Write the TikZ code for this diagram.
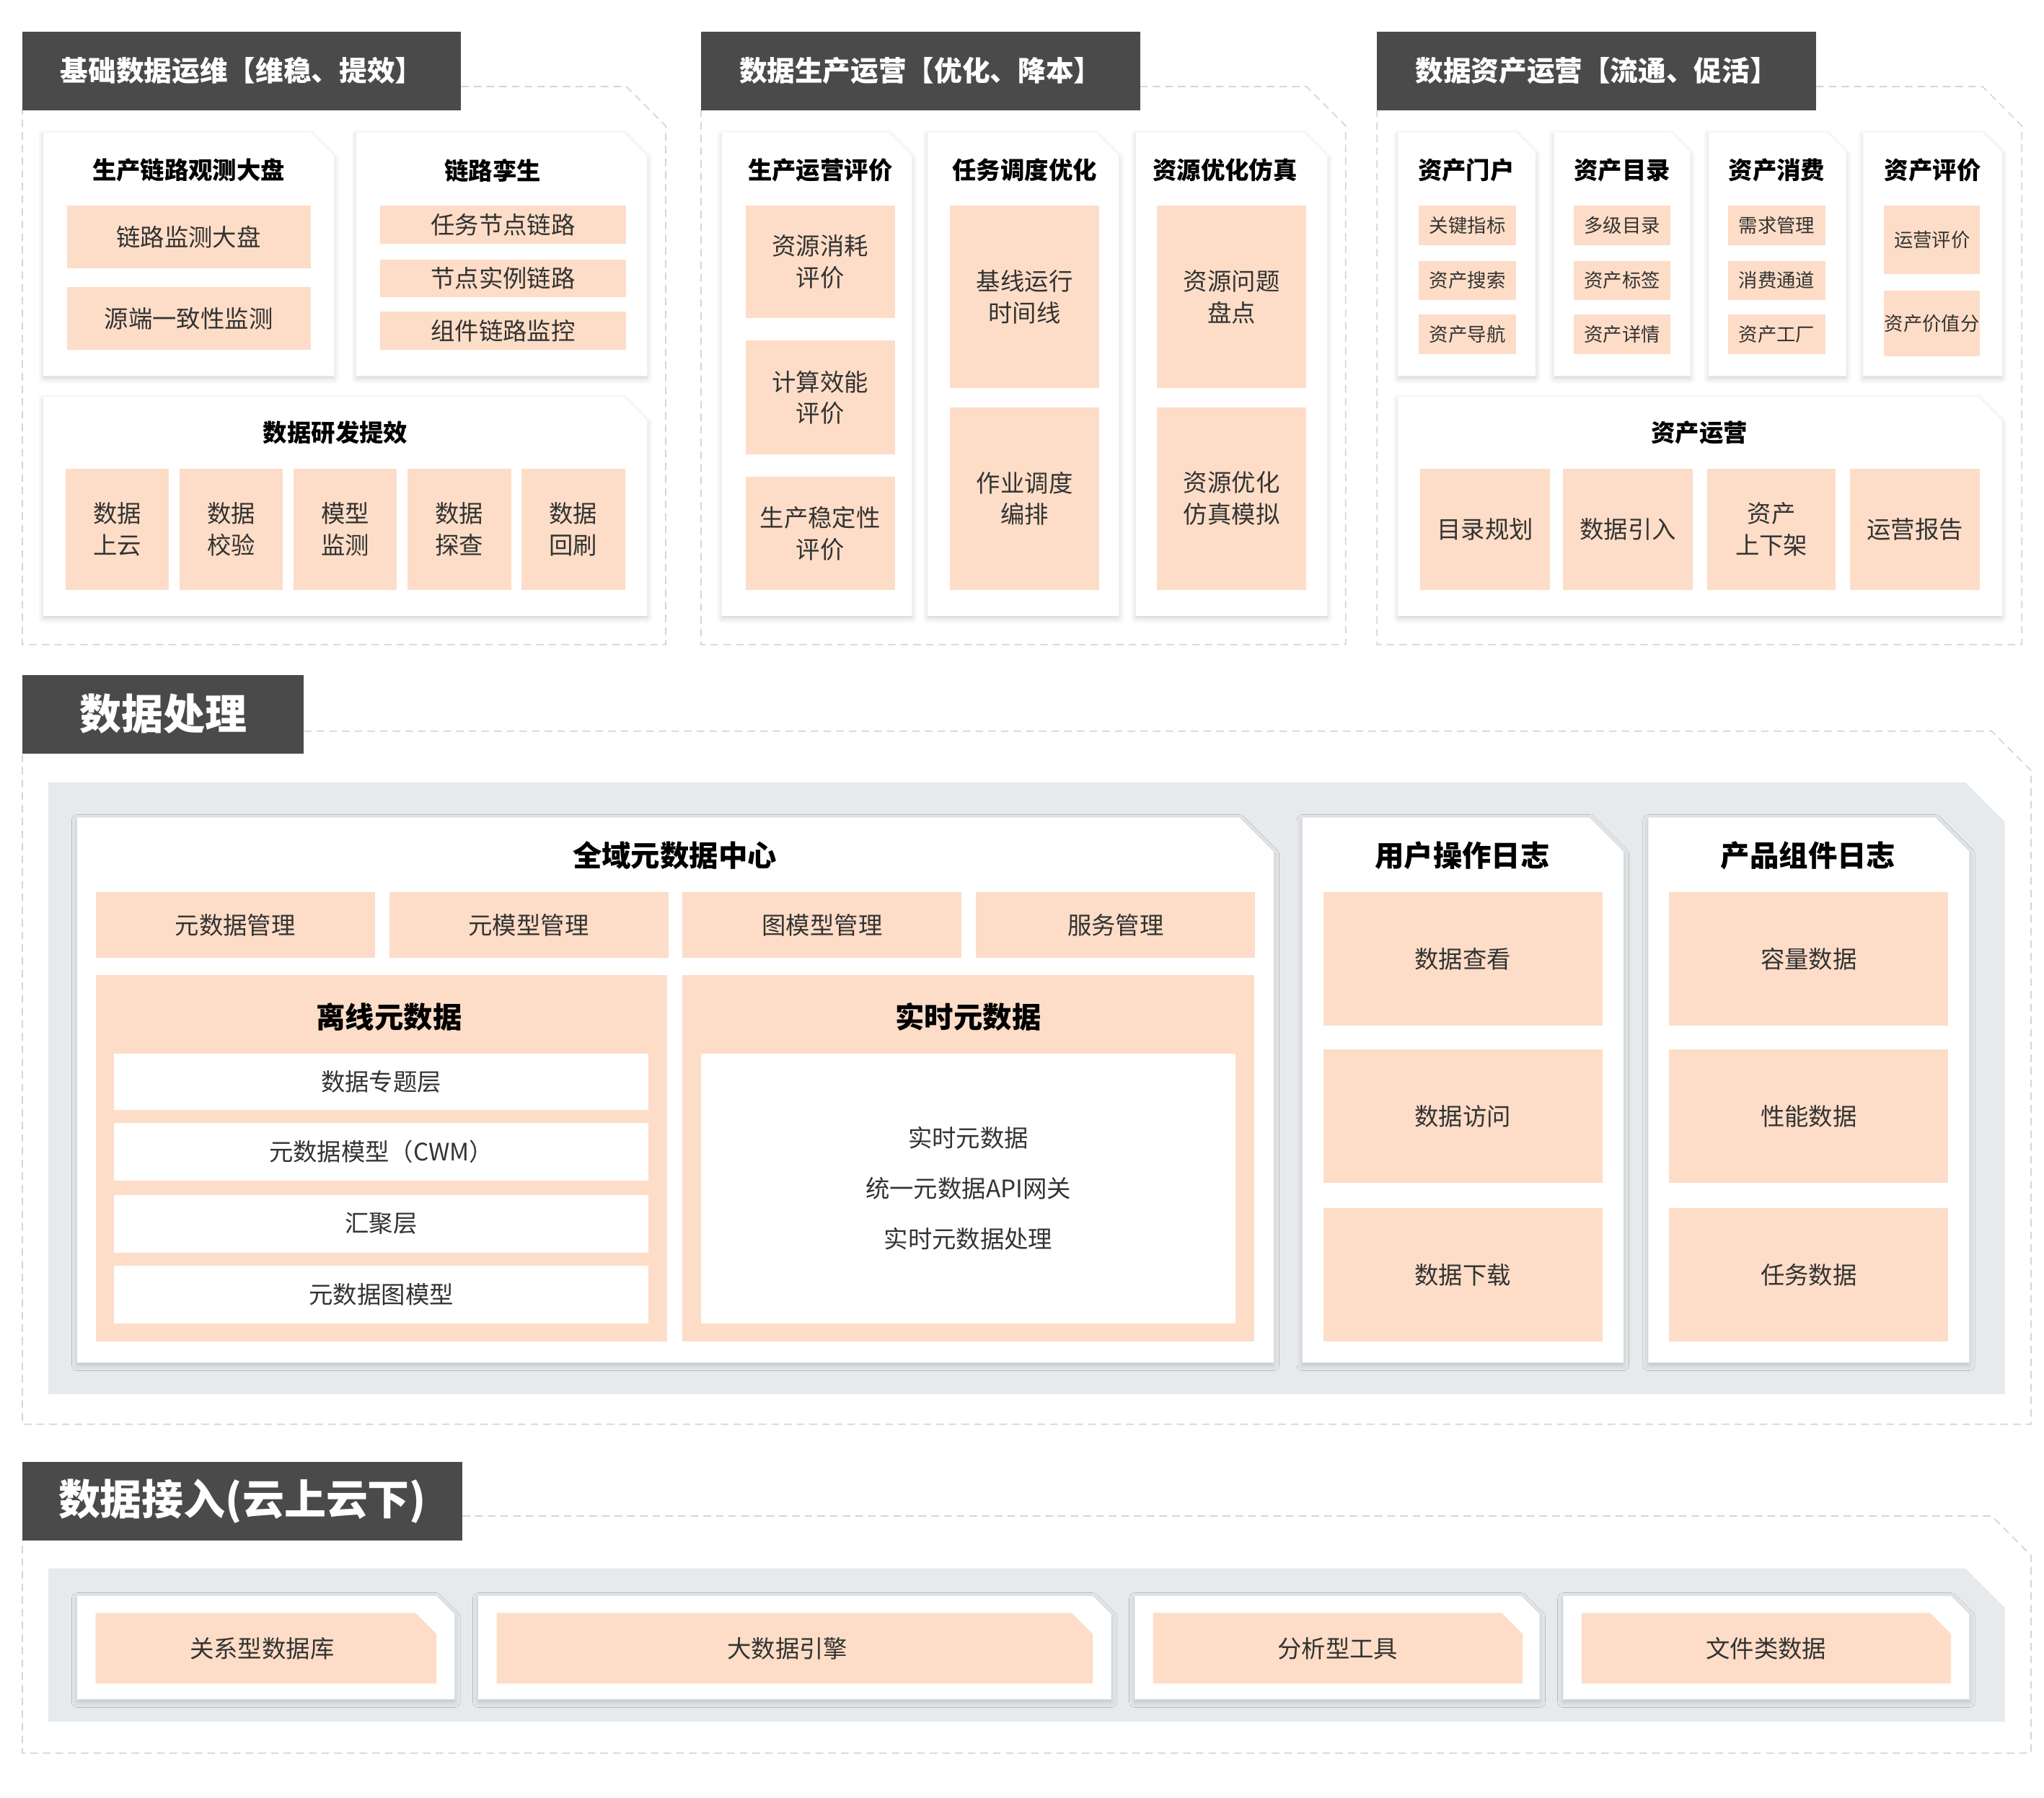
\documentclass[tikz,border=0pt]{standalone}
\usepackage{fontspec}
\setmainfont{Noto Sans CJK SC}
\usetikzlibrary{shadows.blur}
\definecolor{peach}{HTML}{FDDDC7}
\definecolor{headbg}{HTML}{4A4A4A}
\definecolor{panel}{HTML}{E7EAEC}
\definecolor{dashc}{HTML}{D3D6D8}
\definecolor{txt}{HTML}{333333}
\newcommand\card[5]{\fill[cardsty] (#1,#2) -- ({#3-#5},#2) -- (#3,{#2+#5}) -- (#3,#4) -- (#1,#4) -- cycle;}
\newcommand\outline[5]{\draw[dashsty] (#1,#2) -- ({#3-30},#2) -- (#3,{#2+30}) -- (#3,#4) -- (#5,#4) -- (#5,{#2+18});}
\newcommand\pbox[7][]{\node[peachbox, #1, minimum width={(#4-#2)*0.01817cm}, minimum height={(#5-#3)*0.01817cm}] (#6) at ({(#2+#4)/2},{(#3+#5)/2}) {#7};}
\begin{document}
\begin{tikzpicture}[x=0.01817cm, y=-0.01817cm,
  cardsty/.style={fill=white, blur shadow={shadow xshift=0pt, shadow yshift=-1pt, shadow blur steps=6, shadow opacity=18}},
  dashsty/.style={draw=dashc, dash pattern=on 3pt off 2pt, line width=0.5pt},
  peachbox/.style={fill=peach, inner sep=0pt, align=center, text=txt, font=\fontsize{9.5}{12.5}\selectfont},
  small/.style={font=\fontsize{7.5}{9}\selectfont},
  whitebox/.style={peachbox, fill=white},
  head/.style={fill=headbg, text=white, inner sep=0pt, font=\fontsize{11}{13}\selectfont\bfseries},
  bighead/.style={head, font=\fontsize{16.5}{19}\selectfont\bfseries},
  cardtitle/.style={text=black, font=\fontsize{9.5}{12}\selectfont\bfseries},
  bigtitle/.style={text=black, font=\fontsize{11.5}{14}\selectfont\bfseries},
  ]
  \useasboundingbox (0,0) rectangle (1560,1372);
  % top three sections
  \outline{352}{66}{508}{492}{17}
  \outline{870}{66}{1027}{492}{535}
  \outline{1386}{66}{1543}{492}{1051}
  \pbox[head]{17}{24}{352}{84}{h1}{基础数据运维【维稳、提效】}
  \pbox[head]{535}{24}{870}{84}{h2}{数据生产运营【优化、降本】}
  \pbox[head]{1051}{24}{1386}{84}{h3}{数据资产运营【流通、促活】}
  % section 1
  \card{33}{101}{255}{287}{18}
  \card{272}{101}{494}{287}{18}
  \card{33}{303}{494}{470}{18}
  \node[cardtitle] (c11) at (144,130) {生产链路观测大盘};
  \node[cardtitle] (c12) at (376,130) {链路孪生};
  \node[cardtitle] (c13) at (256,330) {数据研发提效};
  \pbox{51}{157}{237}{205}{a1}{链路监测大盘}
  \pbox{51}{219}{237}{267}{a2}{源端一致性监测}
  \pbox{290}{157}{478}{186}{b1}{任务节点链路}
  \pbox{290}{198}{478}{227}{b2}{节点实例链路}
  \pbox{290}{238}{478}{267}{b3}{组件链路监控}
  \pbox{50}{358}{129}{450}{d1}{数据\\上云}
  \pbox{137}{358}{216}{450}{d2}{数据\\校验}
  \pbox{224}{358}{303}{450}{d3}{模型\\监测}
  \pbox{311}{358}{390}{450}{d4}{数据\\探查}
  \pbox{398}{358}{477}{450}{d5}{数据\\回刷}
  % section 2
  \card{551}{101}{696}{470}{18}
  \card{708}{101}{854}{470}{18}
  \card{867}{101}{1013}{470}{18}
  \node[cardtitle] (c21) at (626,130) {生产运营评价};
  \node[cardtitle] (c22) at (782,130) {任务调度优化};
  \node[cardtitle] (c23) at (935,130) {资源优化仿真};
  \pbox{569}{157}{683}{243}{e1}{资源消耗\\评价}
  \pbox{569}{260}{683}{347}{e2}{计算效能\\评价}
  \pbox{569}{364}{683}{450}{e3}{生产稳定性\\评价}
  \pbox{725}{157}{839}{296}{f1}{基线运行\\时间线}
  \pbox{725}{311}{839}{450}{f2}{作业调度\\编排}
  \pbox{883}{157}{997}{296}{g1}{资源问题\\盘点}
  \pbox{883}{311}{997}{450}{g2}{资源优化\\仿真模拟}
  % section 3
  \card{1067}{101}{1172}{287}{15}
  \card{1186}{101}{1290}{287}{15}
  \card{1304}{101}{1409}{287}{15}
  \card{1422}{101}{1528}{287}{15}
  \card{1067}{303}{1528}{470}{18}
  \node[cardtitle] (c31) at (1119,130) {资产门户};
  \node[cardtitle] (c32) at (1238,130) {资产目录};
  \node[cardtitle] (c33) at (1356,130) {资产消费};
  \node[cardtitle] (c34) at (1475,130) {资产评价};
  \node[cardtitle] (c35) at (1297,330) {资产运营};
  \pbox[small]{1083}{157}{1157}{187}{p1}{关键指标}
  \pbox[small]{1083}{199}{1157}{229}{p2}{资产搜索}
  \pbox[small]{1083}{240}{1157}{270}{p3}{资产导航}
  \pbox[small]{1201}{157}{1275}{187}{q1}{多级目录}
  \pbox[small]{1201}{199}{1275}{229}{q2}{资产标签}
  \pbox[small]{1201}{240}{1275}{270}{q3}{资产详情}
  \pbox[small]{1319}{157}{1393}{187}{r1}{需求管理}
  \pbox[small]{1319}{199}{1393}{229}{r2}{消费通道}
  \pbox[small]{1319}{240}{1393}{270}{r3}{资产工厂}
  \pbox[small]{1438}{157}{1511}{209}{s1}{运营评价}
  \pbox[small]{1438}{222}{1511}{272}{s2}{资产价值分}
  \pbox{1084}{358}{1183}{450}{o1}{目录规划}
  \pbox{1193}{358}{1292}{450}{o2}{数据引入}
  \pbox{1303}{358}{1401}{450}{o3}{资产\\上下架}
  \pbox{1412}{358}{1511}{450}{o4}{运营报告}
  % data processing
  \outline{232}{558}{1550}{1087}{17}
  \pbox[bighead]{17}{515}{232}{575}{h4}{数据处理}
  \fill[panel] (37,597) -- (1500,597) -- (1530,627) -- (1530,1064) -- (37,1064) -- cycle;
  \card{59}{624}{972}{1040}{26}
  \card{994}{624}{1239}{1040}{26}
  \card{1258}{624}{1503}{1040}{26}
  \node[bigtitle] (m0) at (515,653) {全域元数据中心};
  \node[bigtitle] (u0) at (1116,653) {用户操作日志};
  \node[bigtitle] (v0) at (1380,653) {产品组件日志};
  \pbox{73}{681}{286}{731}{m1}{元数据管理}
  \pbox{297}{681}{510}{731}{m2}{元模型管理}
  \pbox{521}{681}{734}{731}{m3}{图模型管理}
  \pbox{745}{681}{958}{731}{m4}{服务管理}
  \pbox{73}{744}{509}{1024}{off}{}
  \pbox{521}{744}{957}{1024}{rt}{}
  \node[bigtitle] (offt) at (297,776) {离线元数据};
  \node[bigtitle] (rtt) at (739,776) {实时元数据};
  \pbox[whitebox]{87}{804}{495}{847}{w1}{数据专题层}
  \pbox[whitebox]{87}{857}{495}{901}{w2}{元数据模型（CWM）}
  \pbox[whitebox]{87}{912}{495}{956}{w3}{汇聚层}
  \pbox[whitebox]{87}{966}{495}{1010}{w4}{元数据图模型}
  \pbox[whitebox, font=\fontsize{9.5}{20}\selectfont]{535}{804}{943}{1010}{w5}{实时元数据\\统一元数据API网关\\实时元数据处理}
  \pbox{1010}{681}{1223}{783}{u1}{数据查看}
  \pbox{1010}{801}{1223}{903}{u2}{数据访问}
  \pbox{1010}{922}{1223}{1024}{u3}{数据下载}
  \pbox{1274}{681}{1487}{783}{v1}{容量数据}
  \pbox{1274}{801}{1487}{903}{v2}{性能数据}
  \pbox{1274}{922}{1487}{1024}{v3}{任务数据}
  % data access
  \outline{353}{1157}{1550}{1338}{17}
  \pbox[bighead]{17}{1116}{353}{1176}{h5}{数据接入(云上云下)}
  \fill[panel] (37,1197) -- (1500,1197) -- (1530,1227) -- (1530,1314) -- (37,1314) -- cycle;
  \card{59}{1218}{347}{1297}{14}
  \card{365}{1218}{848}{1297}{14}
  \card{866}{1218}{1175}{1297}{14}
  \card{1193}{1218}{1503}{1297}{14}
  \fill[peach] (73,1231) -- (317,1231) -- (333,1247) -- (333,1285) -- (73,1285) -- cycle;
  \fill[peach] (379,1231) -- (818,1231) -- (834,1247) -- (834,1285) -- (379,1285) -- cycle;
  \fill[peach] (880,1231) -- (1146,1231) -- (1162,1247) -- (1162,1285) -- (880,1285) -- cycle;
  \fill[peach] (1207,1231) -- (1473,1231) -- (1489,1247) -- (1489,1285) -- (1207,1285) -- cycle;
  \node[peachbox, fill=none] (k1) at (200,1258) {关系型数据库};
  \node[peachbox, fill=none] (k2) at (601,1258) {大数据引擎};
  \node[peachbox, fill=none] (k3) at (1021,1258) {分析型工具};
  \node[peachbox, fill=none] (k4) at (1348,1258) {文件类数据};
\end{tikzpicture}
\end{document}
